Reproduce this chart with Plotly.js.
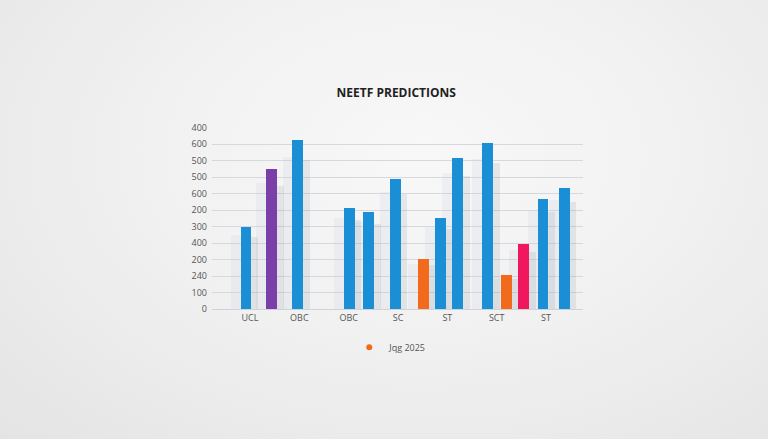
<!DOCTYPE html>
<html>
<head>
<meta charset="utf-8">
<script src="https://cdn.plot.ly/plotly-3.0.1.min.js"></script>
<style>
  html, body { margin: 0; padding: 0; }
  body {
    width: 768px; height: 439px; overflow: hidden;
    background: radial-gradient(ellipse at 55% 35%, #f8f8f8 0%, #f1f1f1 45%, #e4e4e4 100%);
  }
  #chart { width: 768px; height: 439px; }
</style>
</head>
<body>
<div id="chart"></div>
<script>
// Category labels and their positions on the x axis (category units)
const categories = ["UCL", "OBC", "OBC", "SC", "ST", "SCT", "ST"];
const categoryPos = [0, 1, 2, 3, 4, 5, 6];

// Y tick labels as printed (bottom to top), one per gridline
const yTickText = ["0", "100", "240", "200", "400", "300", "200", "600", "500", "500", "600", "400"];
const yTickVals = [0, 1, 2, 3, 4, 5, 6, 7, 8, 9, 10, 11];

// Bars: x position (category units), height (gridline units), colour group
const barX =      [-0.08, 0.44, 0.97, 2.02, 2.41, 2.95, 3.52, 3.86, 4.21, 4.82, 5.20, 5.55, 5.94, 6.37];
const barValues = [4.95, 8.5, 10.25, 6.15, 5.85, 7.9, 3.04, 5.52, 9.17, 10.07, 2.04, 3.95, 6.65, 7.35];
const barGroup =  ["blue", "purple", "blue", "blue", "blue", "blue", "orange", "blue", "blue", "blue", "orange", "pink", "blue", "blue"];

const legendName = "Jqg 2025";

const palette = { blue: "#1b8fd6", purple: "#7a3fa8", orange: "#f26a1b", pink: "#f0175f" };

// soft "3D" shadow behind each bar (left ghost, right shade)
const ghostLeft = {
  type: "bar",
  x: barX.map(v => v - 0.16),
  y: barValues.map(v => v * 0.9),
  width: 0.3,
  marker: { color: "rgba(195,202,215,0.16)", line: { width: 0 } },
  hoverinfo: "skip",
  showlegend: false
};
const shadeRight = {
  type: "bar",
  x: barX.map(v => v + 0.14),
  y: barValues.map(v => v * 0.88),
  width: 0.2,
  marker: { color: "rgba(110,120,140,0.13)", line: { width: 0 } },
  hoverinfo: "skip",
  showlegend: false
};

const bars = {
  type: "bar",
  x: barX,
  y: barValues,
  width: 0.22,
  marker: { color: barGroup.map(g => palette[g]), line: { width: 0 } },
  showlegend: false,
  hoverinfo: "y"
};

const legendTrace = {
  type: "scatter",
  mode: "markers",
  x: [null],
  y: [null],
  name: legendName,
  marker: { color: palette.orange, size: 6, symbol: "circle" },
  showlegend: true
};

const layout = {
  width: 768,
  height: 439,
  paper_bgcolor: "rgba(0,0,0,0)",
  plot_bgcolor: "rgba(0,0,0,0)",
  margin: { l: 212, r: 185, t: 127, b: 130, pad: 0 },
  font: { family: "Open Sans, Noto Sans, sans-serif", color: "#555" },
  title: {
    text: "<b>NEETF PREDICTIONS</b>",
    font: { family: "Open Sans, Noto Sans, sans-serif", size: 12, color: "#222" },
    x: 0.516, xanchor: "center",
    y: 0.788, yanchor: "middle"
  },
  barmode: "overlay",
  bargap: 0,
  xaxis: {
    range: [-0.77, 6.75],
    tickvals: categoryPos,
    ticktext: categories,
    showgrid: false,
    zeroline: false,
    showline: true,
    linecolor: "#cfd2d6",
    linewidth: 1,
    ticks: "",
    tickfont: { size: 9, color: "#555" },
    fixedrange: true
  },
  yaxis: {
    range: [0, 11.03],
    tickvals: yTickVals,
    ticktext: yTickText,
    showgrid: true,
    gridcolor: "#d6d8dc",
    gridwidth: 1,
    zeroline: false,
    showline: false,
    ticks: "",
    ticklabelstandoff: 4,
    tickfont: { size: 9, color: "#555" },
    fixedrange: true
  },
  showlegend: true,
  legend: {
    orientation: "h",
    x: 0.37, xanchor: "left",
    y: -0.21, yanchor: "middle",
    bgcolor: "rgba(0,0,0,0)",
    font: { size: 9, color: "#555" },
    itemwidth: 30
  }
};

Plotly.newPlot("chart", [ghostLeft, shadeRight, bars, legendTrace], layout, { displayModeBar: false, staticPlot: true });
</script>
</body>
</html>
